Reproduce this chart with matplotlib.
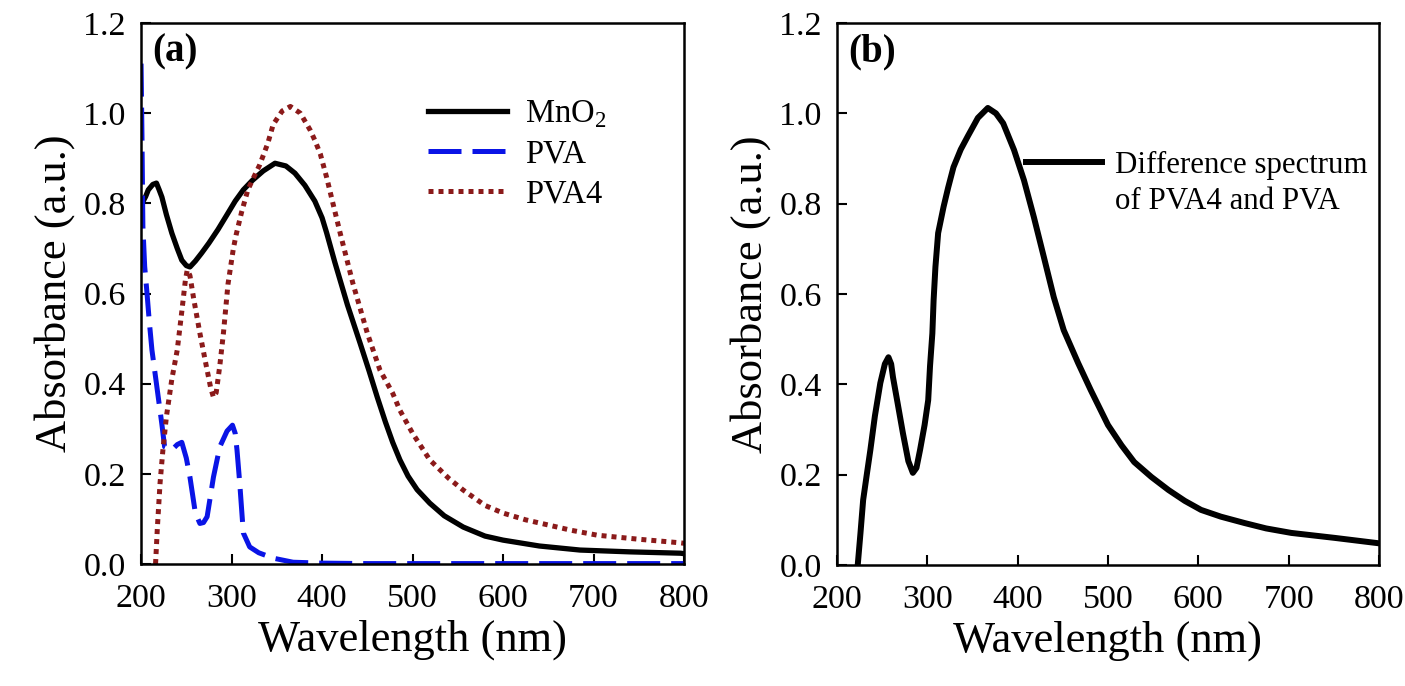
import matplotlib
matplotlib.use("Agg")
import matplotlib.pyplot as plt

# ---- data ----
mno2_x = [200, 201, 205, 208, 213, 217, 220, 223, 228, 234, 240, 245, 250, 254, 260, 267, 275, 285, 295, 304, 313, 323,
          335, 348, 360, 370, 381, 392, 400, 405, 414, 428, 442, 452, 461, 470, 478, 486, 495, 505, 519, 535, 556, 580,
          600, 640, 685, 740, 796, 800]
mno2_y = [0.77, 0.80, 0.815, 0.83, 0.842, 0.845, 0.83, 0.814, 0.775, 0.734, 0.70, 0.674, 0.662, 0.659, 0.672, 0.69, 0.712,
          0.742, 0.775, 0.805, 0.83, 0.851, 0.872, 0.889, 0.883, 0.867, 0.84, 0.805, 0.768, 0.735, 0.67, 0.575, 0.49, 0.428,
          0.37, 0.315, 0.27, 0.231, 0.195, 0.165, 0.135, 0.107, 0.082, 0.062, 0.053, 0.04, 0.031, 0.027, 0.024, 0.023]

pva_x = [200, 201, 202, 204, 206.6, 209, 212, 217, 223, 226, 234, 240, 245, 250, 254, 260, 265, 269, 273, 280, 287,
         295, 301, 304, 306, 309, 313, 320, 330, 346, 368, 400, 450, 500, 550, 600, 650, 700, 750, 800]
pva_y = [1.11, 0.95, 0.75, 0.66, 0.60, 0.54, 0.475, 0.40, 0.31, 0.26, 0.253, 0.265, 0.27, 0.235, 0.193, 0.113, 0.09,
         0.092, 0.105, 0.193, 0.26, 0.295, 0.308, 0.29, 0.253, 0.18, 0.069, 0.038, 0.025, 0.013, 0.004, 0.002, 0.001,
         0.001, 0.001, 0.001, 0.001, 0.001, 0.001, 0.001]

pva4_x = [216, 218, 221, 224, 228, 234, 240, 245, 249, 251, 254, 258, 265, 272, 277, 280, 283, 287, 291, 296, 302, 305,
          311, 318, 325, 331, 340, 346, 356, 365, 376, 387, 392, 398, 405, 412, 420, 434, 450, 464, 478, 486, 500, 519,
          540, 556, 580, 600, 625, 649, 675, 704, 750, 796, 800]
pva4_y = [0.0, 0.08, 0.18, 0.25, 0.327, 0.41, 0.475, 0.56, 0.63, 0.652, 0.64, 0.59, 0.512, 0.44, 0.39, 0.37, 0.38, 0.44,
          0.512, 0.62, 0.70, 0.73, 0.78, 0.83, 0.86, 0.885, 0.933, 0.975, 1.005, 1.015, 1.0, 0.962, 0.94, 0.91, 0.858,
          0.80, 0.734, 0.623, 0.512, 0.43, 0.379, 0.341, 0.29, 0.231, 0.19, 0.164, 0.13, 0.113, 0.098, 0.087, 0.075,
          0.064, 0.055, 0.047, 0.046]

diff_x = [223, 226, 229, 233, 237, 242, 248, 253, 257, 260, 262, 267, 273, 279, 284, 288, 292, 297, 301, 303, 305.6,
          307, 309, 312, 318, 323, 329, 337, 345, 356, 367, 376, 384, 396, 407, 418, 429, 440, 451, 467, 481, 500, 515,
          529, 548, 567, 585, 603, 625, 651, 675, 703, 751, 800]
diff_y = [0.0, 0.07, 0.144, 0.2, 0.255, 0.33, 0.403, 0.445, 0.46, 0.445, 0.416, 0.36, 0.292, 0.23, 0.204, 0.215, 0.255,
          0.31, 0.365, 0.44, 0.513, 0.587, 0.66, 0.735, 0.793, 0.835, 0.881, 0.92, 0.95, 0.99, 1.012, 1.0, 0.978, 0.919,
          0.852, 0.77, 0.682, 0.593, 0.52, 0.447, 0.387, 0.31, 0.265, 0.228, 0.195, 0.166, 0.142, 0.122, 0.107, 0.093,
          0.081, 0.071, 0.06, 0.048]

xticks = [200, 300, 400, 500, 600, 700, 800]
yticks = [0.0, 0.2, 0.4, 0.6, 0.8, 1.0, 1.2]

plt.rcParams['font.family'] = ['Liberation Serif', 'DejaVu Serif']
plt.rcParams['mathtext.fontset'] = 'custom'
plt.rcParams['mathtext.rm'] = 'Liberation Serif'

fig = plt.figure(figsize=(14.05, 6.86), dpi=100)
axa = fig.add_axes([0.1004, 0.1778, 0.3865, 0.7886])
axb = fig.add_axes([0.5957, 0.1764, 0.3858, 0.7900])


def style(ax, label):
    ax.set_xlim(200, 800)
    ax.set_ylim(0, 1.2)
    ax.set_xticks(xticks)
    ax.set_yticks(yticks)
    ax.set_xticklabels([str(v) for v in xticks])
    ax.set_yticklabels([f"{v:.1f}" for v in yticks])
    ax.tick_params(direction='in', length=7, width=1.5, labelsize=24.5,
                   top=False, right=False)
    ax.tick_params(axis='x', pad=14)
    ax.tick_params(axis='y', pad=11)
    for s in ax.spines.values():
        s.set_linewidth(1.8)
    ax.set_xlabel("Wavelength (nm)", fontsize=32, labelpad=4)
    ax.set_ylabel("Absorbance (a.u.)", fontsize=32, labelpad=6)
    ax.text(0.02, 0.98, label, transform=ax.transAxes, fontsize=28,
            fontweight='bold', va='top', ha='left')


axa.plot(mno2_x, mno2_y, color='black', lw=3.8, label=r'MnO$_2$', solid_joinstyle='round')
axa.plot(pva_x, pva_y, color='#0a14e6', lw=3.6, dashes=(6.6, 2.2), label='PVA')
axa.plot(pva4_x, pva4_y, color='#8b1a1a', lw=3.6, dashes=(1, 1), label='PVA4')
style(axa, '(a)')
axa.legend(loc='upper left', bbox_to_anchor=(0.505, 0.885), frameon=False, fontsize=23.5,
           handlelength=2.4, handletextpad=0.55, labelspacing=0.28, borderaxespad=0)

axb.plot(diff_x, diff_y, color='black', lw=4.3, label='Difference spectrum', solid_joinstyle='round')
style(axb, '(b)')
legb = axb.legend(loc='upper left', bbox_to_anchor=(0.326, 0.787), frameon=False, fontsize=22.2,
                  handlelength=2.45, handletextpad=0.45, borderaxespad=0)

fig.canvas.draw()
bb = legb.get_texts()[0].get_window_extent()
x0, y0 = fig.transFigure.inverted().transform((bb.x0, bb.y0))
axb.text(x0, y0 - 0.052, 'of PVA4 and PVA', transform=fig.transFigure,
         fontsize=22.2, ha='left', va='bottom')

fig.savefig("out.png", dpi=100)
